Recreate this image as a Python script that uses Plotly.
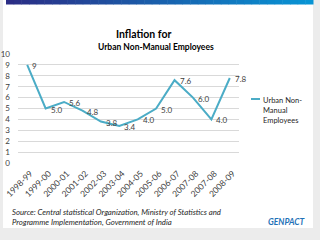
import plotly.graph_objects as go

categories = ["1998-99", "1999-00", "2000-01", "2001-02", "2002-03", "2003-04",
              "2004-05", "2005-06", "2006-07", "2007-08", "2007-08", "2008-09"]
values = [9, 5.0, 5.6, 4.8, 3.8, 3.4, 4.0, 5.0, 7.6, 6.0, 4.0, 7.8]
labels = ["9", "5.0", "5.6", "4.8", "3.8", "3.4", "4.0", "5.0", "7.6", "6.0", "4.0", "7.8"]
series_name = "Urban Non-<br>Manual<br>Employees"

W, H = 320, 240
L, R, T, B = 18, 239, 54, 163
FONT = "Lato"
LINE_COLOR = "#4bacc6"

def px(x):
    return (x - L) / (R - L)

def py(y):
    return (B - y) / (B - T)

xs = list(range(len(categories)))

fig = go.Figure()
fig.add_trace(go.Scatter(
    x=xs, y=values, mode="lines", name=series_name,
    line=dict(color=LINE_COLOR, width=2), cliponaxis=False, showlegend=False,
))

shapes = []
# page white panel
shapes.append(dict(type="rect", xref="paper", yref="paper", x0=px(3), x1=px(313),
                   y0=py(228), y1=py(0), fillcolor="white", line=dict(width=0), layer="below"))
# gradient top bar
n = 40
c0 = (0x2b, 0x2d, 0x85)
c1 = (0x08, 0x94, 0xd4)
for i in range(n):
    t = i / (n - 1)
    c = tuple(int(round(c0[k] + (c1[k] - c0[k]) * t)) for k in range(3))
    xa = 6 + (313 - 6) * i / n
    xb = 6 + (313 - 6) * (i + 1) / n + 0.5
    shapes.append(dict(type="rect", xref="paper", yref="paper", x0=px(xa), x1=px(xb),
                       y0=py(4.5), y1=py(0), fillcolor="rgb(%d,%d,%d)" % c,
                       line=dict(width=0), layer="below"))
# legend sample line
shapes.append(dict(type="line", xref="paper", yref="paper", x0=px(251), x1=px(260),
                   y0=py(99), y1=py(99), line=dict(color=LINE_COLOR, width=2)))

annotations = [
    dict(text="<b>Inflation for</b>", x=px(143), y=py(26), xref="paper", yref="paper",
         showarrow=False, font=dict(size=10.5, color="#000000", family=FONT)),
    dict(text="<b>Urban Non-Manual Employees</b>", x=px(156), y=py(40), xref="paper", yref="paper",
         showarrow=False, font=dict(size=8.5, color="#000000", family=FONT)),
    dict(text=series_name, x=px(261), y=py(94), xref="paper", yref="paper",
         xanchor="left", yanchor="top", align="left", showarrow=False,
         font=dict(size=7.5, color="#262626", family=FONT)),
    dict(text="<i>Source: Central statistical Organization, Ministry of Statistics and<br>Programme Implementation, Government of India</i>",
         x=px(10), y=py(217), xref="paper", yref="paper", xanchor="left", yanchor="middle",
         align="left", showarrow=False, font=dict(size=7.8, color="#262626", family=FONT)),
    dict(text="<b><i>GENPACT</i></b>", x=px(308), y=py(222), xref="paper", yref="paper",
         xanchor="right", yanchor="middle", showarrow=False,
         font=dict(size=8.5, color="#1f72b8", family=FONT)),
]
# data labels through data coordinates
for xi, v, lab in zip(xs, values, labels):
    annotations.append(dict(text=lab, x=xi, y=v, xref="x", yref="y", xanchor="left",
                            yanchor="middle", xshift=3, yshift=-1, showarrow=False,
                            font=dict(size=8, color="#404040", family=FONT)))

fig.update_layout(
    width=W, height=H,
    margin=dict(l=L, r=W - R, t=T, b=H - B, pad=0, autoexpand=False),
    paper_bgcolor="#ececec", plot_bgcolor="white",
    shapes=shapes, annotations=annotations,
    showlegend=False,
    xaxis=dict(tickmode="array", tickvals=xs, ticktext=categories, range=[-0.5, len(xs) - 0.5],
               tickangle=-45, tickfont=dict(size=8.5, color="#404040", family=FONT),
               showgrid=False, zeroline=False, showline=False, ticks="", automargin=False,
               ticklabelstandoff=3, ticklabelshift=3),
    yaxis=dict(range=[0, 10], dtick=1, tickfont=dict(size=8, color="#404040", family=FONT),
               showgrid=True, gridcolor="#d9d9d9", gridwidth=1, zeroline=False,
               showline=False, ticks="", ticklabelstandoff=7, automargin=False),
)

fig.write_html("out.html")
